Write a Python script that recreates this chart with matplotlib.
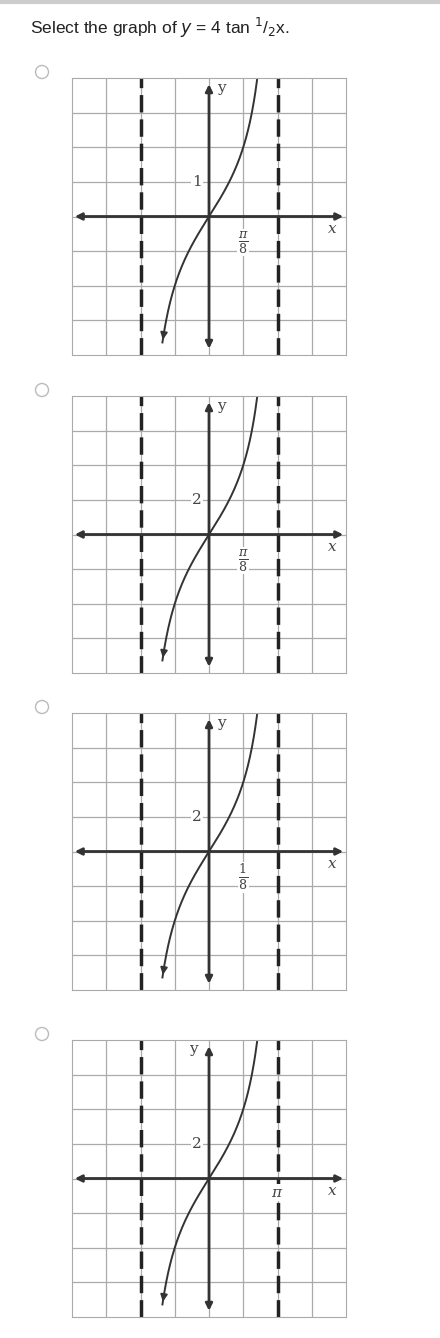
import numpy as np
import matplotlib.pyplot as plt
from matplotlib.patches import Ellipse

W, H = 440, 1338
# top pixel row of each graph box
tops = [78, 396, 713, 1040]
ylabels = ["1", "2", "2", "2"]
xlabels = [r"$\frac{\pi}{8}$", r"$\frac{\pi}{8}$", r"$\frac{1}{8}$", r"$\pi$"]
xlabel_pos = [1, 1, 1, 2]
asymptotes = [-2, 2]
k = 2.0  # curve scale in grid cells

plt.rcParams['mathtext.fontset'] = 'dejavuserif'
fig = plt.figure(figsize=(W / 100, H / 100), dpi=100)

# header line and title
fig.add_artist(plt.Line2D([0, 1], [1 - 2 / H, 1 - 2 / H], color='#cccccc', lw=3))
fig.text(30 / W, 1 - 28 / H, r"Select the graph of $\mathit{y}$ = 4 tan $^{1}$/$_{2}$x.",
         fontsize=12.5, va='center', family='Liberation Sans', color='#222222',
         math_fontfamily='dejavusans')

xs = np.linspace(-1.36, 1.42, 200)
ys = k * np.tan(np.pi * xs / 4)

for i, top in enumerate(tops):
    # radio button
    fig.add_artist(Ellipse((42 / W, 1 - (top - 6) / H), 13 / W, 13 / H,
                           transform=fig.transFigure, fill=False, ec='#bbbbbb', lw=1))
    ax = fig.add_axes([72 / W, 1 - (top + 277) / H, 274 / W, 277 / H])
    ax.set_xlim(-4, 4)
    ax.set_ylim(-4, 4)
    ax.set_xticks([])
    ax.set_yticks([])
    for s in ax.spines.values():
        s.set_color('#aaaaaa')
    for g in range(-3, 4):
        ax.axvline(g, color='#aaaaaa', lw=0.9)
        ax.axhline(g, color='#aaaaaa', lw=0.9)
    # axes with arrows
    ax.annotate('', xy=(4, 0), xytext=(-4, 0),
                arrowprops=dict(arrowstyle='<|-|>', color='#333333', lw=2, mutation_scale=10))
    ax.annotate('', xy=(0, 3.9), xytext=(0, -3.9),
                arrowprops=dict(arrowstyle='<|-|>', color='#333333', lw=2, mutation_scale=10))
    for a in asymptotes:
        ax.plot([a, a], [-4, 4], color='#222222', lw=2.5, ls=(0, (5, 2)))
    ax.plot(xs, ys, color='#333333', lw=1.4)
    ax.annotate('', xy=(xs[-1], ys[-1]), xytext=(xs[-4], ys[-4]),
                arrowprops=dict(arrowstyle='-|>', color='#333333', lw=1.4, mutation_scale=10))
    ax.annotate('', xy=(xs[0], ys[0]), xytext=(xs[3], ys[3]),
                arrowprops=dict(arrowstyle='-|>', color='#333333', lw=1.4, mutation_scale=10))
    # labels
    ax.text(-0.35, 1, ylabels[i], fontsize=11, ha='center', va='center', family='DejaVu Serif',
            color='#444444', bbox=dict(fc='white', ec='none', pad=0.5))
    if i == 3:
        ax.text(-0.45, 3.75, "y", fontsize=11, ha='center', va='center', family='DejaVu Serif',
                color='#444444', bbox=dict(fc='white', ec='none', pad=0.5))
        ax.text(xlabel_pos[i], -0.4, xlabels[i], fontsize=11, ha='center', va='center',
                color='#444444', bbox=dict(fc='white', ec='none', pad=0.5))
    else:
        ax.text(0.35, 3.7, "y", fontsize=11, ha='center', va='center', family='DejaVu Serif',
                color='#444444', bbox=dict(fc='white', ec='none', pad=0.5))
        ax.text(xlabel_pos[i], -0.75, xlabels[i], fontsize=13, ha='center', va='center',
                color='#444444', bbox=dict(fc='white', ec='none', pad=0.5))
    ax.text(3.6, -0.35, "x", fontsize=11, ha='center', va='center', family='DejaVu Serif',
            style='italic', color='#444444', bbox=dict(fc='white', ec='none', pad=0.5))

fig.savefig('out.png', dpi=100)
